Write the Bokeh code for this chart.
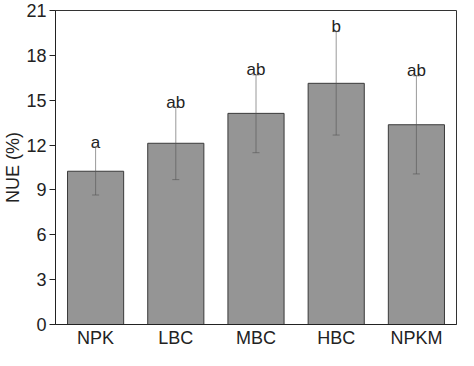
from bokeh.plotting import figure
from bokeh.models import ColumnDataSource, FactorRange, Range1d, FixedTicker, Whisker, TeeHead
from bokeh.core.properties import value
from bokeh.embed import file_html
from bokeh.resources import INLINE

categories = ["NPK", "LBC", "MBC", "HBC", "NPKM"]
nue_mean = [10.25, 12.12, 14.12, 16.13, 13.36]
err_upper = [11.87, 14.54, 16.69, 19.59, 16.63]
err_lower = [8.66, 9.69, 11.49, 12.67, 10.07]
letters = ["a", "ab", "ab", "b", "ab"]
y_ticks = [0, 3, 6, 9, 12, 15, 18, 21]

FONT = "Liberation Sans"

src = ColumnDataSource(dict(cat=categories, mean=nue_mean, upper=err_upper,
                            lower=err_lower, lab=letters))

p = figure(width=458, height=350, x_range=FactorRange(*categories, range_padding=0),
           y_range=Range1d(0, 21), output_backend="svg", toolbar_location=None,
           min_border_left=0, min_border_right=2, min_border_top=10, min_border_bottom=0)

p.vbar(x="cat", top="mean", width=0.7, source=src, fill_color="#959595",
       line_color="#3a3a3a", line_width=1)

w = Whisker(source=src, base="cat", upper="upper", lower="lower",
            line_color="#555555", line_alpha=0.6, line_width=1, level="overlay",
            upper_head=TeeHead(size=7, line_color="#555555", line_alpha=0.6, line_width=1),
            lower_head=TeeHead(size=7, line_color="#555555", line_alpha=0.6, line_width=1))
p.add_layout(w)

p.text(x="cat", y="upper", text="lab", source=src, text_align="center",
       text_baseline="alphabetic", y_offset=-5, text_font=value(FONT),
       text_font_size="17px", text_color="#222222")

p.xgrid.visible = False
p.ygrid.visible = False
p.outline_line_color = "#333333"
p.outline_line_width = 1

p.yaxis.ticker = FixedTicker(ticks=y_ticks)
p.yaxis.axis_label = "NUE (%)"
p.yaxis.axis_label_text_font = FONT
p.yaxis.axis_label_text_font_size = "18px"
p.yaxis.axis_label_text_font_style = "normal"
p.yaxis.axis_label_text_color = "#222222"
p.yaxis.axis_label_standoff = 0
p.yaxis.major_label_text_font = FONT
p.yaxis.major_label_text_font_size = "18px"
p.yaxis.major_label_text_color = "#222222"
p.yaxis.major_tick_out = 6
p.yaxis.major_tick_in = 0
p.yaxis.minor_tick_out = 0
p.yaxis.minor_tick_in = 0
p.yaxis.axis_line_color = "#222222"
p.yaxis.major_tick_line_color = "#222222"
p.yaxis.major_label_standoff = 3

p.xaxis.major_label_text_font = FONT
p.xaxis.major_label_text_font_size = "18px"
p.xaxis.major_label_text_color = "#222222"
p.xaxis.major_tick_out = 0
p.xaxis.major_tick_in = 0
p.xaxis.axis_line_color = "#222222"
p.xaxis.major_label_standoff = 3

p.background_fill_color = "white"
p.border_fill_color = "white"

open("out.html", "w").write(file_html(p, INLINE))
